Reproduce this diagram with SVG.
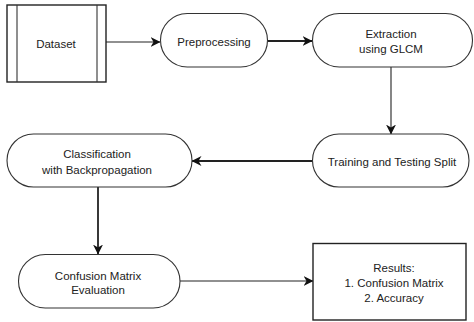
<svg xmlns="http://www.w3.org/2000/svg" width="474" height="322" viewBox="0 0 474 322">
<style>
.n{fill:#fff;stroke:#333;stroke-width:1.1}
.t{font-family:"Liberation Sans",Arial,sans-serif;font-size:11.5px;fill:#222;text-anchor:middle}
.c{fill:none;stroke:#222}
.thin{stroke-width:1.1}
.thick{stroke-width:1.8}
</style>
<defs>
<marker id="ah" viewBox="0 0 10 10" refX="9.5" refY="5" markerWidth="7" markerHeight="7" markerUnits="userSpaceOnUse" orient="auto">
<path d="M0,0 L10,5 L0,10 L3,5 z" fill="#111"/>
</marker>
<marker id="ah2" viewBox="0 0 10 10" refX="9.5" refY="5" markerWidth="10" markerHeight="10" markerUnits="userSpaceOnUse" orient="auto">
<path d="M0,0 L10,5 L0,10 L3,5 z" fill="#111"/>
</marker>
</defs>
<g id="connectors">
<path class="c thin" d="M106,42 L160,42" marker-end="url(#ah2)"/>
<path class="c thick" d="M268,41 L312,41" marker-end="url(#ah2)"/>
<path class="c thin" d="M391,67 L391,134" marker-end="url(#ah2)"/>
<path class="c thick" d="M312,161 L192,161" marker-end="url(#ah2)"/>
<path class="c thick" d="M98,187 L98,254" marker-end="url(#ah2)"/>
<path class="c thin" d="M180,281 L313,281" marker-end="url(#ah2)"/>
</g>
<g id="dataset">
<rect class="n" x="7" y="5" width="99" height="77" style="stroke-width:1.4;stroke:#222"/>
<line class="n" x1="17" y1="5" x2="17" y2="82"/>
<line class="n" x1="97" y1="5" x2="97" y2="82"/>
<text class="t" x="56" y="48">Dataset</text>
</g>
<g id="preprocessing">
<rect class="n" x="160.5" y="13.5" width="107" height="53.5" rx="26.75"/>
<text class="t" x="214" y="46">Preprocessing</text>
</g>
<g id="extraction">
<rect class="n" x="312.5" y="13.5" width="160" height="53.5" rx="26.75"/>
<text class="t" x="391" y="38">Extraction</text>
<text class="t" x="391" y="53">using GLCM</text>
</g>
<g id="training">
<rect class="n" x="312.5" y="134" width="156.5" height="53" rx="26.5"/>
<text class="t" x="392" y="166">Training and Testing Split</text>
</g>
<g id="classification">
<rect class="n" x="7" y="134" width="185" height="53" rx="26.5"/>
<text class="t" x="97" y="158">Classification</text>
<text class="t" x="97" y="174">with Backpropagation</text>
</g>
<g id="confusion">
<rect class="n" x="18.5" y="254.5" width="161.5" height="53.5" rx="26.75"/>
<text class="t" x="98" y="280">Confusion Matrix</text>
<text class="t" x="98" y="294">Evaluation</text>
</g>
<g id="results">
<rect class="n" x="313" y="243.5" width="153" height="76.5" style="stroke-width:1.4;stroke:#222"/>
<text class="t" x="394" y="272">Results:</text>
<text class="t" x="394" y="287">1. Confusion Matrix</text>
<text class="t" x="394" y="302">2. Accuracy</text>
</g>
</svg>
